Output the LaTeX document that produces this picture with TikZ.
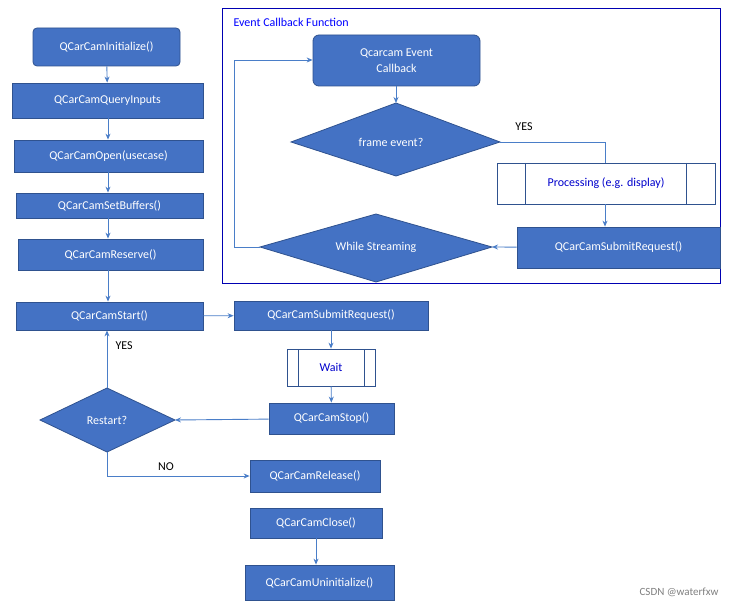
\documentclass[tikz,border=0pt]{standalone}
\usepackage{fontspec}
\setmainfont{Carlito}
\usetikzlibrary{arrows.meta}
\definecolor{bfill}{HTML}{4472C4}
\definecolor{bdraw}{HTML}{2F528F}
\definecolor{ln}{HTML}{4A7EC8}
\begin{document}
\begin{tikzpicture}[x=1pt,y=-1pt,
  box/.style={draw=bdraw,fill=bfill,text=white,font=\fontsize{12}{14}\selectfont,inner sep=0,line width=0.8pt},
  wbox/.style={draw=bdraw,fill=white,text=blue!80!black,font=\fontsize{12}{14}\selectfont,inner sep=0,line width=0.8pt},
  dia/.style={draw=bdraw,fill=bfill,line width=0.8pt},
  lbl/.style={text=white,font=\fontsize{12}{14}\selectfont},
  arr/.style={draw=ln,line width=0.9pt,-{Stealth[length=6pt,width=5pt]}},
  con/.style={draw=ln,line width=0.9pt}]
\fill[white] (0,0) rectangle (737,607);
% left column
\node[box,rounded corners=4pt,minimum width=147,minimum height=38] (init) at (106.5,47) {QCarCamInitialize()};
\node[box,minimum width=191,minimum height=35] (query) at (107.5,100.5) {QCarCamQueryInputs};
\node[box,minimum width=189,minimum height=32] (open) at (108.5,156) {QCarCamOpen(usecase)};
\node[box,minimum width=187,minimum height=25] (setbuf) at (109.5,205.5) {QCarCamSetBuffers()};
\node[box,minimum width=185,minimum height=31] (reserve) at (110.5,254.5) {QCarCamReserve()};
\node[box,minimum width=187,minimum height=28] (start) at (109.5,316) {QCarCamStart()};
\node[box,minimum width=194,minimum height=29] (submit) at (331,315.5) {QCarCamSubmitRequest()};
\node[wbox,minimum width=88,minimum height=37] (wait) at (331,367.5) {Wait};
\draw[bdraw,line width=0.8pt] (298,349)--(298,386) (364,349)--(364,386);
\node[box,minimum width=125,minimum height=31] (stop) at (331.5,418.5) {QCarCamStop()};
\draw[dia] (40,420)--(107,388)--(175,420)--(107,452)--cycle;
\node[lbl] (restart) at (107,420) {Restart?};
\coordinate (rt) at (107,388); \coordinate (rr) at (175,420); \coordinate (rb) at (107,452);
\node[box,minimum width=130,minimum height=32] (release) at (315,476) {QCarCamRelease()};
\node[box,minimum width=132,minimum height=30] (close) at (316,523) {QCarCamClose()};
\node[box,minimum width=149,minimum height=35] (uninit) at (319.5,582.5) {QCarCamUninitialize()};
% chain
\draw[arr] (init)--(query);
\draw[arr] (query.south -| 108,0)--(open.north -| 108,0);
\draw[arr] (open.south -| 108,0)--(setbuf.north -| 108,0);
\draw[arr] (setbuf.south -| 108,0)--(reserve.north -| 108,0);
\draw[arr] (reserve.south -| 108,0)--(start.north -| 108,0);
\draw[arr] (start)--(submit);
\draw[arr] (submit)--(wait);
\draw[arr] (wait)--(stop);
\draw[arr] (stop)--(rr);
\draw[arr] (rt)--(start.south -| rt);
\node[font=\fontsize{12}{14}\selectfont,anchor=west] (yes1) at (112,346) {YES};
\coordinate (nc) at (107,476);
\draw[arr] (rb)--(nc)--(release);
\node[font=\fontsize{12}{14}\selectfont] (no) at (166,467) {NO};
\draw[arr] (close)--(uninit.north -| close);
% event frame
\draw[blue!70!black,line width=0.8pt] (222,8) rectangle (720,283);
\node[anchor=west,text=blue,font=\fontsize{12}{14}\selectfont] (ttl) at (230,22) {Event Callback Function};
\node[box,rounded corners=6pt,minimum width=167,minimum height=51,align=center] (cb) at (396.5,60.5) {Qcarcam Event\\[2pt]Callback};
\draw[dia] (291,142)--(396,103)--(500,142)--(396,176)--cycle;
\node[lbl] (fe) at (391,142) {frame event?};
\coordinate (ft) at (396,103); \coordinate (fr) at (500,142);
\node[wbox,minimum width=218,minimum height=41] (proc) at (606,183.5) {Processing (e.g. display)};
\draw[bdraw,line width=0.8pt] (525,163)--(525,204) (686,163)--(686,204);
\node[box,minimum width=203,minimum height=41] (sub2) at (618.5,247.5) {QCarCamSubmitRequest()};
\draw[dia] (260,247)--(376,214)--(492,247)--(376,282)--cycle;
\node[lbl] (ws) at (376,247) {While Streaming};
\coordinate (wl) at (260,247); \coordinate (wr) at (492,247);
\draw[arr] (cb.south -| ft)--(ft);
\coordinate (fc) at (605,142);
\draw[con] (fr)--(fc)--(proc.north -| fc);
\node[font=\fontsize{12}{14}\selectfont] (yes2) at (524,127) {YES};
\draw[arr] (proc.south -| fc)--(sub2.north -| fc);
\draw[arr] (sub2)--(wr);
\coordinate (c1) at (234,247); \coordinate (c2) at (234,60);
\draw[arr] (wl)--(c1)--(c2)--(cb.west |- c2);
\node[text=gray,font=\fontsize{11}{13}\selectfont,anchor=east] (wm) at (722,592) {CSDN @waterfxw};
\end{tikzpicture}
\end{document}
